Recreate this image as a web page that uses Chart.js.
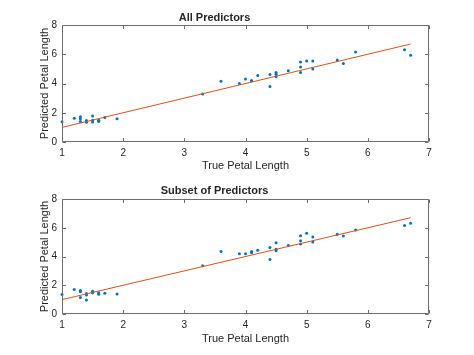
<!DOCTYPE html>
<html>
<head>
<meta charset="utf-8">
<script src="https://cdn.jsdelivr.net/npm/chart.js@4"></script>
<style>
  html, body { margin: 0; padding: 0; background: #ffffff; }
  body { width: 474px; height: 355px; position: relative; overflow: hidden; }
  canvas { position: absolute; left: 0; }
</style>
</head>
<body>
<canvas id="top" width="474" height="177" style="top:0px"></canvas>
<canvas id="bottom" width="474" height="178" style="top:177px"></canvas>
<script>
// ---- data ----
const trueLength = [1.0,1.2,1.3,1.3,1.3,1.4,1.4,1.4,1.5,1.5,1.5,1.6,1.6,1.7,1.9,3.3,3.6,3.9,4.0,4.1,4.1,4.2,4.4,4.4,4.5,4.5,4.5,4.7,4.9,4.9,4.9,5.0,5.1,5.1,5.5,5.6,5.8,6.6,6.7];
const predAll    = [1.38,1.63,1.72,1.59,1.40,1.47,1.36,1.36,1.77,1.49,1.36,1.49,1.40,1.68,1.59,3.29,4.16,4.00,4.30,4.18,4.18,4.55,4.62,3.79,4.76,4.64,4.46,4.87,5.47,5.13,4.76,5.54,5.54,4.99,5.61,5.36,6.16,6.30,5.93];
const predSubset = [1.36,1.71,1.64,1.54,1.15,1.43,1.33,0.98,1.59,1.47,1.47,1.47,1.38,1.45,1.40,3.35,4.35,4.19,4.19,4.35,4.26,4.44,4.63,3.79,4.96,4.51,4.40,4.77,5.45,5.10,4.87,5.61,5.36,5.01,5.54,5.43,5.85,6.15,6.32];
const refLineX = [1, 6.7];
const refLineY = [1, 6.7];
const xTicks = [1,2,3,4,5,6,7];
const yTicks = [0,2,4,6,8];
const titles = ['All Predictors', 'Subset of Predictors'];
const xLabel = 'True Petal Length';
const yLabel = 'Predicted Petal Length';

const FONT = '"Liberation Sans", Arial, Helvetica, sans-serif';
const TEXT = '#262626';
const AXIS = '#6e6e6e';

const boxPlugin = {
  id: 'matlabBox',
  afterDatasetsDraw(chart) {
    const {ctx, chartArea: a, scales: {x, y}} = chart;
    const L = Math.round(a.left) + 0.5, R = Math.round(a.right) - 0.5;
    const T = Math.round(a.top) + 0.5, B = Math.round(a.bottom) - 0.5;
    const tl = 3.5;
    ctx.save();
    ctx.strokeStyle = AXIS;
    ctx.lineWidth = 1;
    ctx.beginPath();
    ctx.rect(L, T, R - L, B - T);
    x.ticks.forEach(t => {
      const px = Math.round(x.getPixelForValue(t.value)) + 0.5;
      ctx.moveTo(px, B); ctx.lineTo(px, B - tl);
      ctx.moveTo(px, T); ctx.lineTo(px, T + tl);
    });
    y.ticks.forEach(t => {
      const py = Math.round(y.getPixelForValue(t.value)) + 0.5;
      ctx.moveTo(L, py); ctx.lineTo(L + tl, py);
      ctx.moveTo(R, py); ctx.lineTo(R - tl, py);
    });
    ctx.stroke();
    ctx.restore();
  }
};

function makeChart(id, title, preds, cfg) {
  const pts = trueLength.map((v, i) => ({x: v, y: preds[i]}));
  const line = refLineX.map((v, i) => ({x: v, y: refLineY[i]}));
  return new Chart(document.getElementById(id), {
    type: 'scatter',
    data: {
      datasets: [
        { data: line, showLine: true, borderColor: '#D95319', borderWidth: 1,
          pointRadius: 0, fill: false, order: 1 },
        { data: pts, backgroundColor: '#0072BD', borderColor: '#0072BD',
          pointRadius: 1.5, borderWidth: 0, order: 2, clip: false }
      ]
    },
    options: {
      responsive: false,
      animation: false,
      layout: { padding: { left: 0, right: 45, top: 0, bottom: 0 } },
      plugins: {
        legend: { display: false },
        tooltip: { enabled: false },
        title: {
          display: true, text: title, color: TEXT,
          font: { family: FONT, size: 11, weight: 'bold', lineHeight: 1.2 },
          padding: { top: cfg.titleTop, bottom: cfg.titleBottom }
        }
      },
      scales: {
        x: {
          type: 'linear', min: 1, max: 7,
          afterBuildTicks: s => { s.ticks = xTicks.map(v => ({value: v})); },
          afterFit: s => { s.height = cfg.xHeight; },
          grid: { display: false, drawTicks: false },
          border: { display: false },
          ticks: { color: TEXT, padding: cfg.xTickPad, maxRotation: 0,
                   font: { family: FONT, size: 10, lineHeight: 1.2 } },
          title: { display: true, text: xLabel, color: TEXT,
                   font: { family: FONT, size: 11, lineHeight: 1.2 },
                   padding: { top: 0, bottom: cfg.xTitlePad } }
        },
        y: {
          type: 'linear', min: 0, max: 8,
          afterBuildTicks: s => { s.ticks = yTicks.map(v => ({value: v})); },
          afterFit: s => { s.width = 62; },
          grid: { display: false, drawTicks: false },
          border: { display: false },
          ticks: { color: TEXT, padding: 5,
                   font: { family: FONT, size: 10, lineHeight: 1.2 } },
          title: { display: true, text: yLabel, color: TEXT,
                   font: { family: FONT, size: 11, lineHeight: 1.2 },
                   padding: { top: 38.4, bottom: 0 } }
        }
      }
    },
    plugins: [boxPlugin]
  });
}

makeChart('top', titles[0], predAll,
  { titleTop: 11.4, titleBottom: 0.4, xHeight: 35, xTickPad: 5.5, xTitlePad: 4.4 });
makeChart('bottom', titles[1], predSubset,
  { titleTop: 7.4, titleBottom: 1.4, xHeight: 41, xTickPad: 5, xTitlePad: 9.4 });
</script>
</body>
</html>
